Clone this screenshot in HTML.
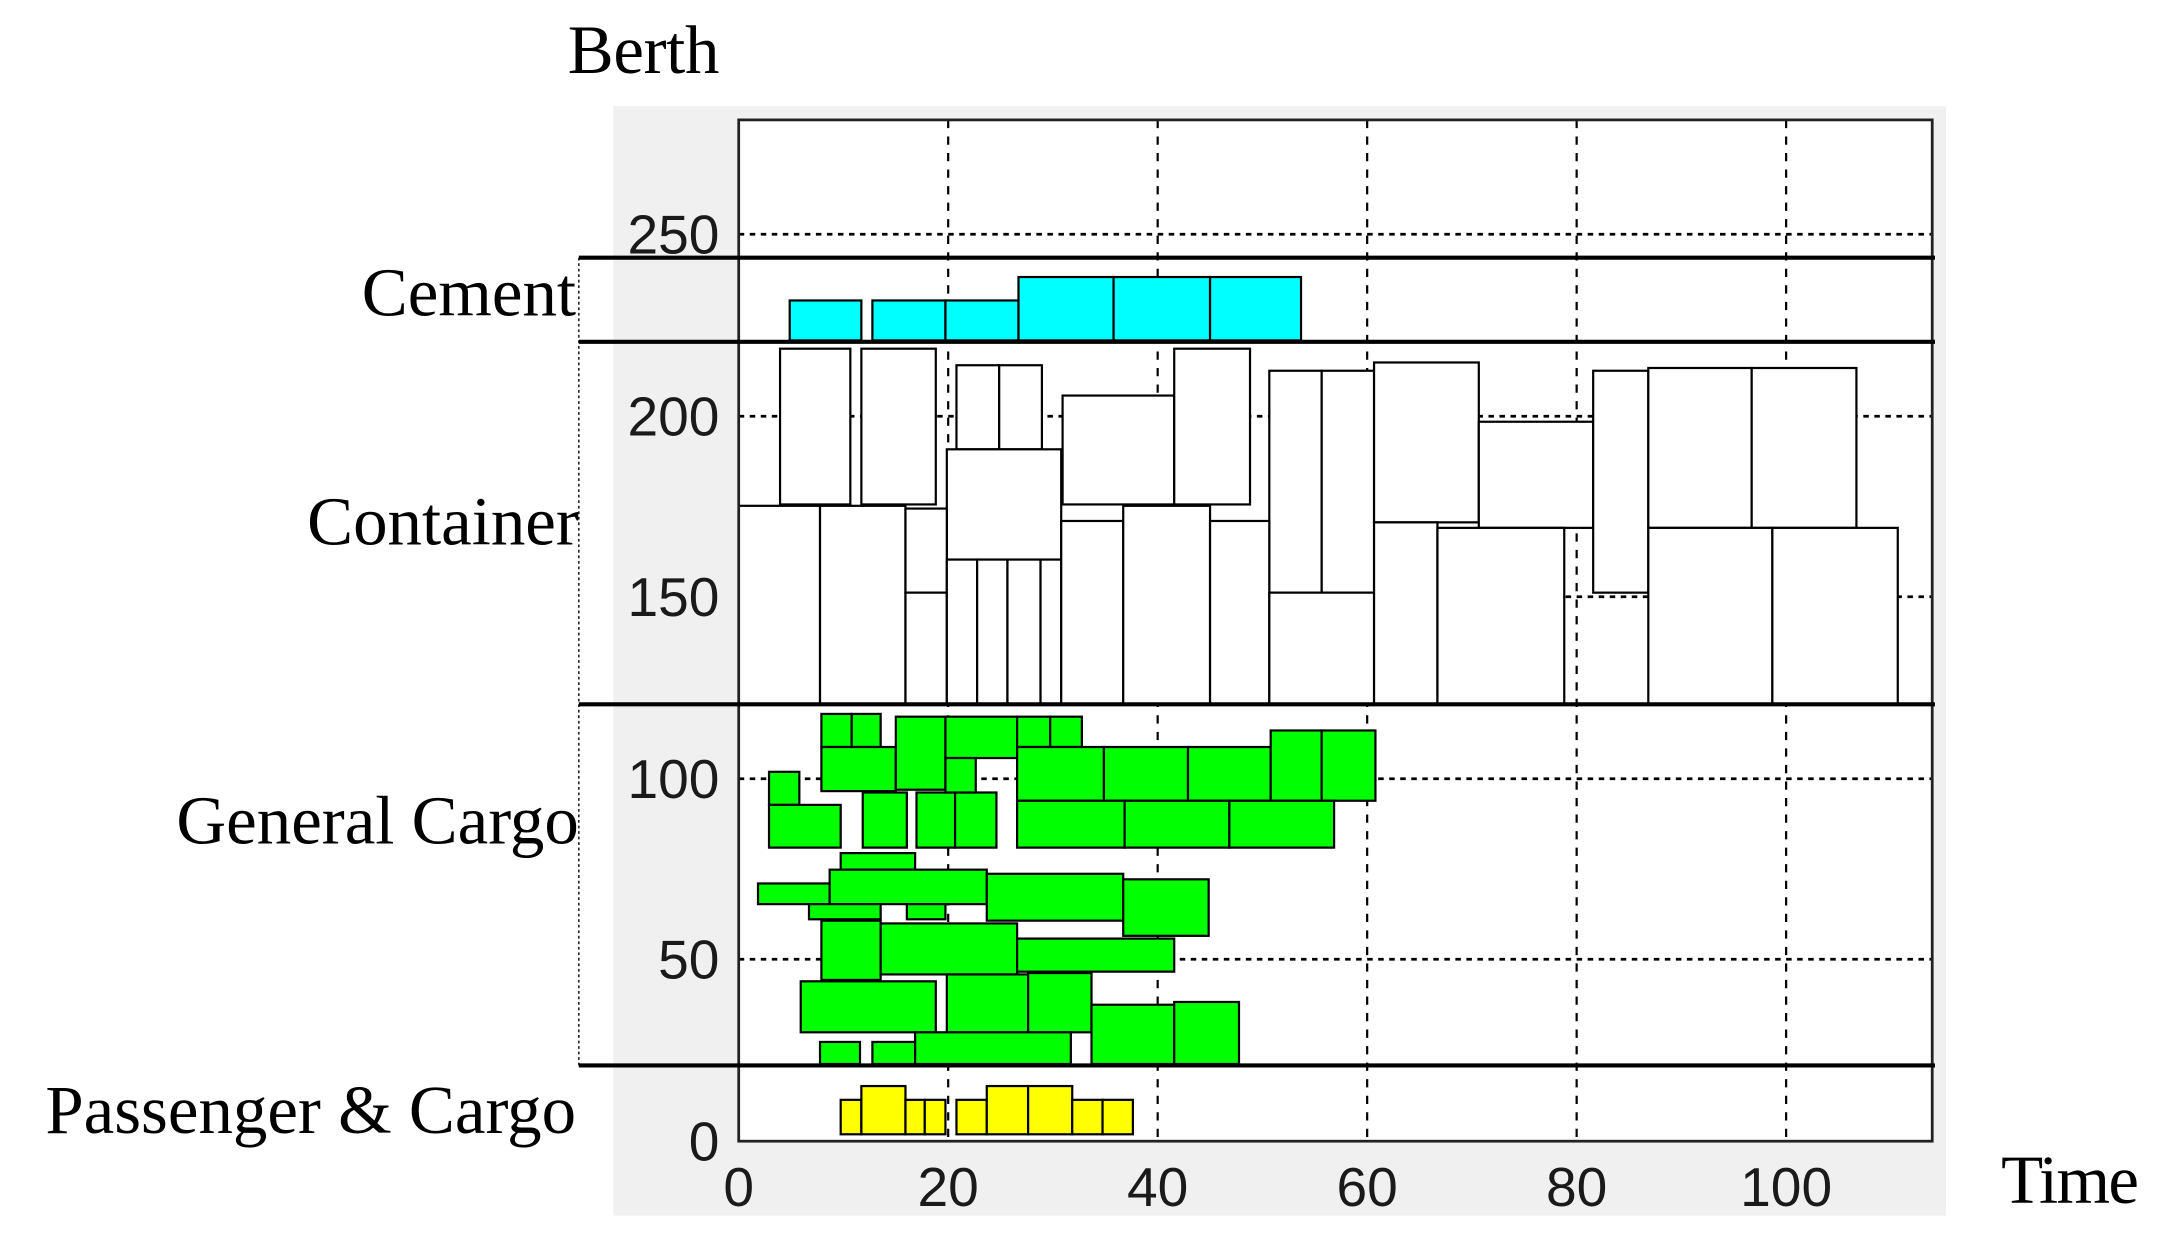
<!DOCTYPE html>
<html><head><meta charset="utf-8"><style>html,body{margin:0;padding:0;background:#fff;}svg{display:block;}</style></head>
<body>
<svg width="2161" height="1244" viewBox="0 0 1568 902.6" preserveAspectRatio="none" xmlns="http://www.w3.org/2000/svg">
<rect x="445" y="77" width="967" height="805" fill="#f0f0f0"/>
<rect x="536" y="87" width="866" height="741" fill="#fff"/>
<g stroke="#000" stroke-width="1.6" stroke-dasharray="6,6" fill="none">
<line x1="688" y1="87" x2="688" y2="828"/><line x1="840" y1="87" x2="840" y2="828"/><line x1="992" y1="87" x2="992" y2="828"/><line x1="1144" y1="87" x2="1144" y2="828"/><line x1="1296" y1="87" x2="1296" y2="828"/>
</g>
<g stroke="#000" stroke-width="2" stroke-dasharray="4,4" fill="none">
<line x1="536" y1="170" x2="1402" y2="170"/><line x1="536" y1="302" x2="1402" y2="302"/><line x1="536" y1="433" x2="1402" y2="433"/><line x1="536" y1="565" x2="1402" y2="565"/><line x1="536" y1="696" x2="1402" y2="696"/>
</g>
<g fill="#fff" stroke="#000" stroke-width="1.6">
<rect x="566" y="253" width="51" height="113"/><rect x="625" y="253" width="54" height="113"/>
<rect x="694" y="265" width="31" height="61"/><rect x="725" y="265" width="31" height="61"/>
<rect x="687" y="326" width="83" height="80"/><rect x="771" y="287" width="81" height="79"/>
<rect x="852" y="253" width="55" height="113"/><rect x="921" y="269" width="38" height="161"/>
<rect x="959" y="269" width="38" height="161"/><rect x="997" y="263" width="76" height="116"/>
<rect x="1073" y="306" width="83" height="77"/><rect x="1156" y="269" width="40" height="161"/>
<rect x="1196" y="267" width="75" height="116"/><rect x="1271" y="267" width="76" height="116"/>
<rect x="536" y="367" width="59" height="144"/><rect x="595" y="367" width="62" height="144"/>
<rect x="657" y="369" width="30" height="61"/><rect x="657" y="430" width="30" height="81"/>
<rect x="687" y="406" width="22" height="105"/><rect x="709" y="406" width="22" height="105"/>
<rect x="731" y="406" width="24" height="105"/><rect x="755" y="406" width="15" height="105"/>
<rect x="770" y="378" width="45" height="133"/><rect x="815" y="367" width="63" height="144"/>
<rect x="878" y="378" width="43" height="133"/><rect x="921" y="430" width="76" height="81"/>
<rect x="997" y="379" width="46" height="132"/><rect x="1043" y="383" width="92" height="128"/>
<rect x="1196" y="383" width="90" height="128"/><rect x="1286" y="383" width="91" height="128"/>
</g>
<g fill="#00ffff" stroke="#000" stroke-width="1.6">
<rect x="573" y="218" width="52" height="29"/><rect x="633" y="218" width="53" height="29"/><rect x="686" y="218" width="53" height="29"/>
<rect x="739" y="201" width="69" height="46"/><rect x="808" y="201" width="70" height="46"/><rect x="878" y="201" width="66" height="46"/>
</g>
<g fill="#00ff00" stroke="#000" stroke-width="1.6">
<rect x="596" y="518" width="22" height="24"/><rect x="618" y="518" width="21" height="24"/>
<rect x="596" y="542" width="54" height="32"/><rect x="650" y="520" width="36" height="53"/>
<rect x="686" y="520" width="52" height="30"/><rect x="738" y="520" width="24" height="22"/><rect x="762" y="520" width="23" height="22"/>
<rect x="738" y="542" width="63" height="39"/><rect x="801" y="542" width="61" height="39"/><rect x="862" y="542" width="60" height="39"/>
<rect x="922" y="530" width="37" height="51"/><rect x="959" y="530" width="39" height="51"/>
<rect x="558" y="560" width="22" height="24"/><rect x="558" y="584" width="52" height="31"/>
<rect x="626" y="575" width="32" height="40"/><rect x="665" y="575" width="28" height="40"/><rect x="693" y="575" width="30" height="40"/>
<rect x="686" y="550" width="22" height="25"/>
<rect x="738" y="581" width="78" height="34"/><rect x="816" y="581" width="76" height="34"/><rect x="892" y="581" width="76" height="34"/>
<rect x="610" y="619" width="54" height="12"/><rect x="550" y="641" width="52" height="15"/>
<rect x="602" y="631" width="114" height="25"/><rect x="716" y="634" width="99" height="34"/>
<rect x="815" y="638" width="62" height="41"/><rect x="587" y="656" width="52" height="11"/><rect x="658" y="656" width="28" height="11"/>
<rect x="596" y="668" width="43" height="43"/><rect x="639" y="670" width="99" height="37"/><rect x="738" y="681" width="114" height="24"/>
<rect x="581" y="712" width="98" height="37"/><rect x="687" y="707" width="59" height="42"/><rect x="746" y="706" width="46" height="43"/>
<rect x="792" y="729" width="60" height="43"/><rect x="852" y="727" width="47" height="45"/>
<rect x="595" y="756" width="29" height="16"/><rect x="633" y="756" width="31" height="16"/><rect x="664" y="749" width="113" height="23"/>
</g>
<g fill="#ffff00" stroke="#000" stroke-width="1.6">
<rect x="610" y="798" width="15" height="25"/><rect x="625" y="788" width="32" height="35"/><rect x="657" y="798" width="14" height="25"/><rect x="671" y="798" width="15" height="25"/>
<rect x="694" y="798" width="22" height="25"/><rect x="716" y="788" width="30" height="35"/><rect x="746" y="788" width="32" height="35"/><rect x="778" y="798" width="22" height="25"/><rect x="800" y="798" width="22" height="25"/>
</g>
<rect x="536" y="87" width="866" height="741" fill="none" stroke="#222" stroke-width="2"/>
<g stroke="#000" stroke-width="3">
<line x1="420" y1="187" x2="1404" y2="187"/><line x1="420" y1="248" x2="1404" y2="248"/><line x1="420" y1="511" x2="1404" y2="511"/><line x1="420" y1="773" x2="1404" y2="773"/>
</g>
<line x1="420" y1="187" x2="420" y2="773" stroke="#000" stroke-width="1" stroke-dasharray="2,2"/>
<g font-family="Liberation Sans, sans-serif" font-size="40" fill="#1a1a1a" text-anchor="end">
<text x="522" y="184">250</text><text x="522" y="316">200</text><text x="522" y="447">150</text><text x="522" y="579">100</text><text x="522" y="710">50</text><text x="522" y="842">0</text>
</g>
<g font-family="Liberation Sans, sans-serif" font-size="40" fill="#1a1a1a" text-anchor="middle">
<text x="536" y="875">0</text><text x="688" y="875">20</text><text x="840" y="875">40</text><text x="992" y="875">60</text><text x="1144" y="875">80</text><text x="1296" y="875">100</text>
</g>
<g font-family="Liberation Serif, serif" font-size="50" fill="#000">
<text x="412" y="53" textLength="110">Berth</text>
<text x="1452" y="873" textLength="100">Time</text>
<text x="418" y="229" text-anchor="end">Cement</text>
<text x="420" y="395" text-anchor="end">Container</text>
<text x="420" y="612" text-anchor="end">General Cargo</text>
<text x="418" y="822" text-anchor="end">Passenger &amp; Cargo</text>
</g>
</svg>
</body></html>
